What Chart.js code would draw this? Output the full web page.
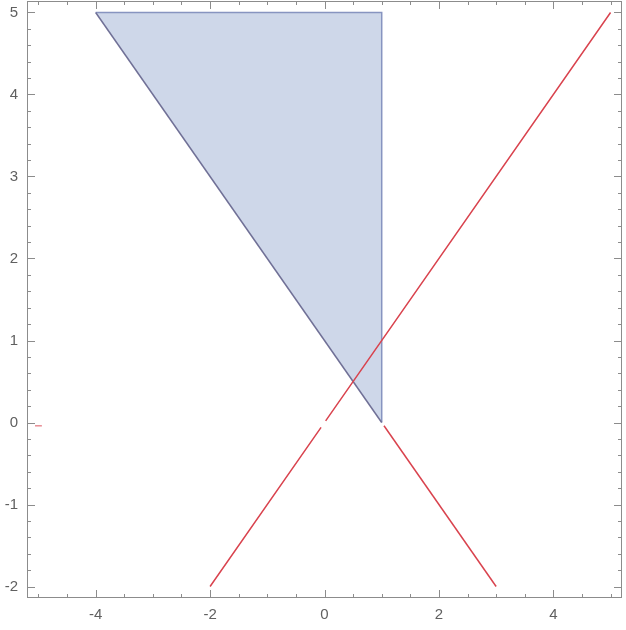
<!DOCTYPE html>
<html>
<head>
<meta charset="utf-8">
<script src="https://cdn.jsdelivr.net/npm/chart.js@4.4.1/dist/chart.umd.min.js"></script>
<style>
  html, body { margin: 0; padding: 0; background: #ffffff; }
  #wrap { width: 626px; height: 630px; position: relative; }
</style>
</head>
<body>
<div id="wrap"><canvas id="plot"></canvas></div>
<script>
// Axis ticks (labelled)
const xTicks = [-4, -2, 0, 2, 4];
const yTicks = [-2, -1, 0, 1, 2, 3, 4, 5];

// Shaded region: triangle corners
const regionX = [-4, 1, 1, -4];
const regionY = [5, 5, 0, 5];

// Red line y = x (with the small gap near the origin)
const riseX = [-2, -0.06, 0, 0.02, 5];
const riseY = [-2, -0.06, null, 0.02, 5];

// Red line y = 1 - x, part below the region
const fallX = [1.04, 3];
const fallY = [-0.04, -2];

// Stray little red dash near x = -5
const dashX = [-5.06, -4.94];
const dashY = [-0.04, -0.04];

const toPoints = (xs, ys) => xs.map((x, i) => ({ x: x, y: ys[i] }));

const frameColor = '#8c8c8c';
const labelColor = '#606060';
const redColor = '#d9434e';

// Frame with inward ticks on all four sides
const framePlugin = {
    id: 'frame',
    afterDatasetsDraw(chart) {
        const { ctx, chartArea: a, scales: { x, y } } = chart;
        ctx.save();
        ctx.strokeStyle = frameColor;
        ctx.lineWidth = 1;
        ctx.strokeRect(a.left + 0.5, a.top + 0.5, a.right - a.left - 1, a.bottom - a.top - 1);

        ctx.beginPath();
        // x ticks every 0.5, long at labelled ones
        for (let i = -10; i <= 10; i++) {
            const v = i / 2;
            const len = xTicks.includes(v) ? 8 : 4;
            const px = Math.round(x.getPixelForValue(v)) + 0.5;
            ctx.moveTo(px, a.bottom);
            ctx.lineTo(px, a.bottom - len);
            ctx.moveTo(px, a.top);
            ctx.lineTo(px, a.top + len);
        }
        // y ticks every 0.2, long at integers
        for (let i = -10; i <= 25; i++) {
            const v = i / 5;
            const len = Number.isInteger(v) ? 8 : 4;
            const py = Math.round(y.getPixelForValue(v)) + 0.5;
            ctx.moveTo(a.left, py);
            ctx.lineTo(a.left + len, py);
            ctx.moveTo(a.right, py);
            ctx.lineTo(a.right - len, py);
        }
        ctx.stroke();
        ctx.restore();
    }
};

const tickFont = { family: '"Liberation Sans", Arial, sans-serif', size: 15 };

new Chart(document.getElementById('plot').getContext('2d'), {
    type: 'scatter',
    data: {
        datasets: [
            {
                data: toPoints(riseX, riseY),
                showLine: true,
                spanGaps: false,
                borderColor: redColor,
                borderWidth: 1.5,
                pointRadius: 0
            },
            {
                data: toPoints(fallX, fallY),
                showLine: true,
                borderColor: redColor,
                borderWidth: 1.5,
                pointRadius: 0
            },
            {
                data: toPoints(dashX, dashY),
                showLine: true,
                borderColor: 'rgba(217, 67, 78, 0.6)',
                borderWidth: 1.5,
                pointRadius: 0
            },
            {
                data: toPoints(regionX, regionY),
                showLine: true,
                fill: 'shape',
                backgroundColor: 'rgb(206, 215, 233)',
                borderWidth: 1.5,
                borderColor: 'rgb(135, 148, 192)',
                segment: {
                    borderColor: c => c.p0DataIndex === 2 ? 'rgb(112, 112, 150)' : 'rgb(135, 148, 192)'
                },
                pointRadius: 0
            }
        ]
    },
    options: {
        responsive: true,
        maintainAspectRatio: false,
        animation: false,
        layout: { padding: { top: 1, right: 4, left: 0, bottom: 0 } },
        plugins: {
            legend: { display: false },
            tooltip: { enabled: false }
        },
        scales: {
            x: {
                type: 'linear',
                min: -5.2,
                max: 5.2,
                grid: { display: false, drawTicks: false },
                border: { display: false },
                afterBuildTicks: s => { s.ticks = xTicks.map(v => ({ value: v })); },
                afterFit: s => { s.height = 32; s.paddingLeft = 0; s.paddingRight = 0; },
                ticks: {
                    color: labelColor,
                    font: tickFont,
                    padding: 8,
                    maxRotation: 0,
                    autoSkip: false,
                    callback: v => String(v)
                }
            },
            y: {
                type: 'linear',
                min: -2.14,
                max: 5.14,
                grid: { display: false, drawTicks: false },
                border: { display: false },
                afterBuildTicks: s => { s.ticks = yTicks.map(v => ({ value: v })); },
                afterFit: s => { s.width = 27; s.paddingTop = 0; s.paddingBottom = 0; },
                ticks: {
                    color: labelColor,
                    font: tickFont,
                    padding: 9,
                    autoSkip: false,
                    callback: v => String(v)
                }
            }
        }
    },
    plugins: [framePlugin]
});
</script>
</body>
</html>
